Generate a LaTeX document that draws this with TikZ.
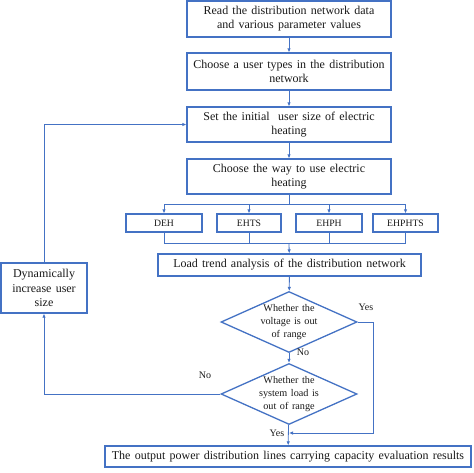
\documentclass[tikz,border=0pt]{standalone}
\usepackage{fontspec}
\setmainfont[WordSpace=1.4]{Liberation Serif}
\usetikzlibrary{arrows.meta, shapes.geometric}
\definecolor{flowBlue}{HTML}{4472C4}
\definecolor{textDark}{HTML}{1A1A1A}

\begin{document}
\begin{tikzpicture}[x=1pt, y=-1pt,
    box/.style={rectangle, draw=flowBlue, line width=1.3pt, fill=white,
                inner sep=0pt, align=center,
                font=\fontsize{12}{14}\selectfont\color{textDark}},
    mode/.style={box, minimum height=18pt,
                 font=\fontsize{9.7}{11}\selectfont\color{textDark}},
    check/.style={diamond, draw=flowBlue, line width=1.3pt, fill=white,
                  minimum width=136pt, minimum height=61pt, inner sep=0pt},
    check text/.style={align=center,
                       font=\fontsize{10.2}{13}\selectfont\color{textDark}},
    tag/.style={font=\fontsize{10}{12}\selectfont\color{textDark}, inner sep=1pt},
    link/.style={draw=flowBlue, line width=0.8pt},
    flow/.style={link, -{Latex[length=4pt,width=3.5pt]}},
  ]
    \useasboundingbox (0,0) rectangle (474,472);

    % main column
    \node[box, minimum width=204pt, minimum height=36pt] (read) at (289,19)
      {Read the distribution network data\\and various parameter values};
    \node[box, minimum width=204pt, minimum height=37pt] (types) at (289,71.5)
      {Choose a user types in the distribution\\network};
    \node[box, minimum width=204pt, minimum height=35pt] (size) at (289,124.5)
      {Set the initial\ \ user size of electric\\heating};
    \node[box, minimum width=204pt, minimum height=35pt] (way) at (289,176.5)
      {Choose the way to use electric\\heating};

    % heating modes
    \node[mode, minimum width=76pt] (deh) at (164,223) {DEH};
    \node[mode, minimum width=64pt] (ehts) at (249,223) {EHTS};
    \node[mode, minimum width=66pt] (ehph) at (329,223) {EHPH};
    \node[mode, minimum width=65pt] (ehphts) at (405.5,223) {EHPHTS};

    \node[box, minimum width=263pt, minimum height=22pt] (load) at (289.5,265)
      {Load trend analysis of the distribution network};

    \node[check, label={[check text]center:{Whether the\\voltage is out\\of range}}]
      (volt) at (289,322) {};
    \node[check, label={[check text]center:{Whether the\\system load is\\out of range}}]
      (sys) at (289,394) {};

    \node[box, minimum width=366pt, minimum height=21pt] (result) at (288,456.5)
      {The output power distribution lines carrying capacity evaluation results};

    \node[box, minimum width=86pt, minimum height=50pt,
          font=\fontsize{12}{14.5}\selectfont\color{textDark}] (grow) at (44,288)
      {Dynamically\\increase user\\size};

    % connectors
    \draw[flow] (read) -- (types);
    \draw[flow] (types) -- (size);
    \draw[flow] (size) -- (way);

    \coordinate (split) at (289,204);
    \coordinate (merge) at (289,243);
    \draw[link] (way) -- (split);
    \draw[link] (deh.north |- split) -- (ehphts.north |- split);
    \draw[link] (deh.south |- merge) -- (ehphts.south |- merge);
    \foreach \m in {deh, ehts, ehph, ehphts} {
      \draw[flow] (\m.north |- split) -- (\m.north);
      \draw[link] (\m.south) -- (\m.south |- merge);
    }
    \draw[flow] (merge) -- (load);
    \draw[flow] (load) -- (volt);
    \draw[flow] (volt) -- (sys);
    \draw[flow] (sys) -- (result);

    \coordinate (join) at (289,433);
    \draw[flow] (volt.east) -- ++(16,0) |- (join);
    \draw[flow] (sys.west) -| (grow.south);
    \draw[flow] (grow.north) |- (size.west);

    % branch labels
    \node[tag] (yes1) at (366,307) {Yes};
    \node[tag] (no1) at (303,352) {No};
    \node[tag] (yes2) at (277,433) {Yes};
    \node[tag] (no2) at (205,375) {No};
  \end{tikzpicture}
\end{document}
